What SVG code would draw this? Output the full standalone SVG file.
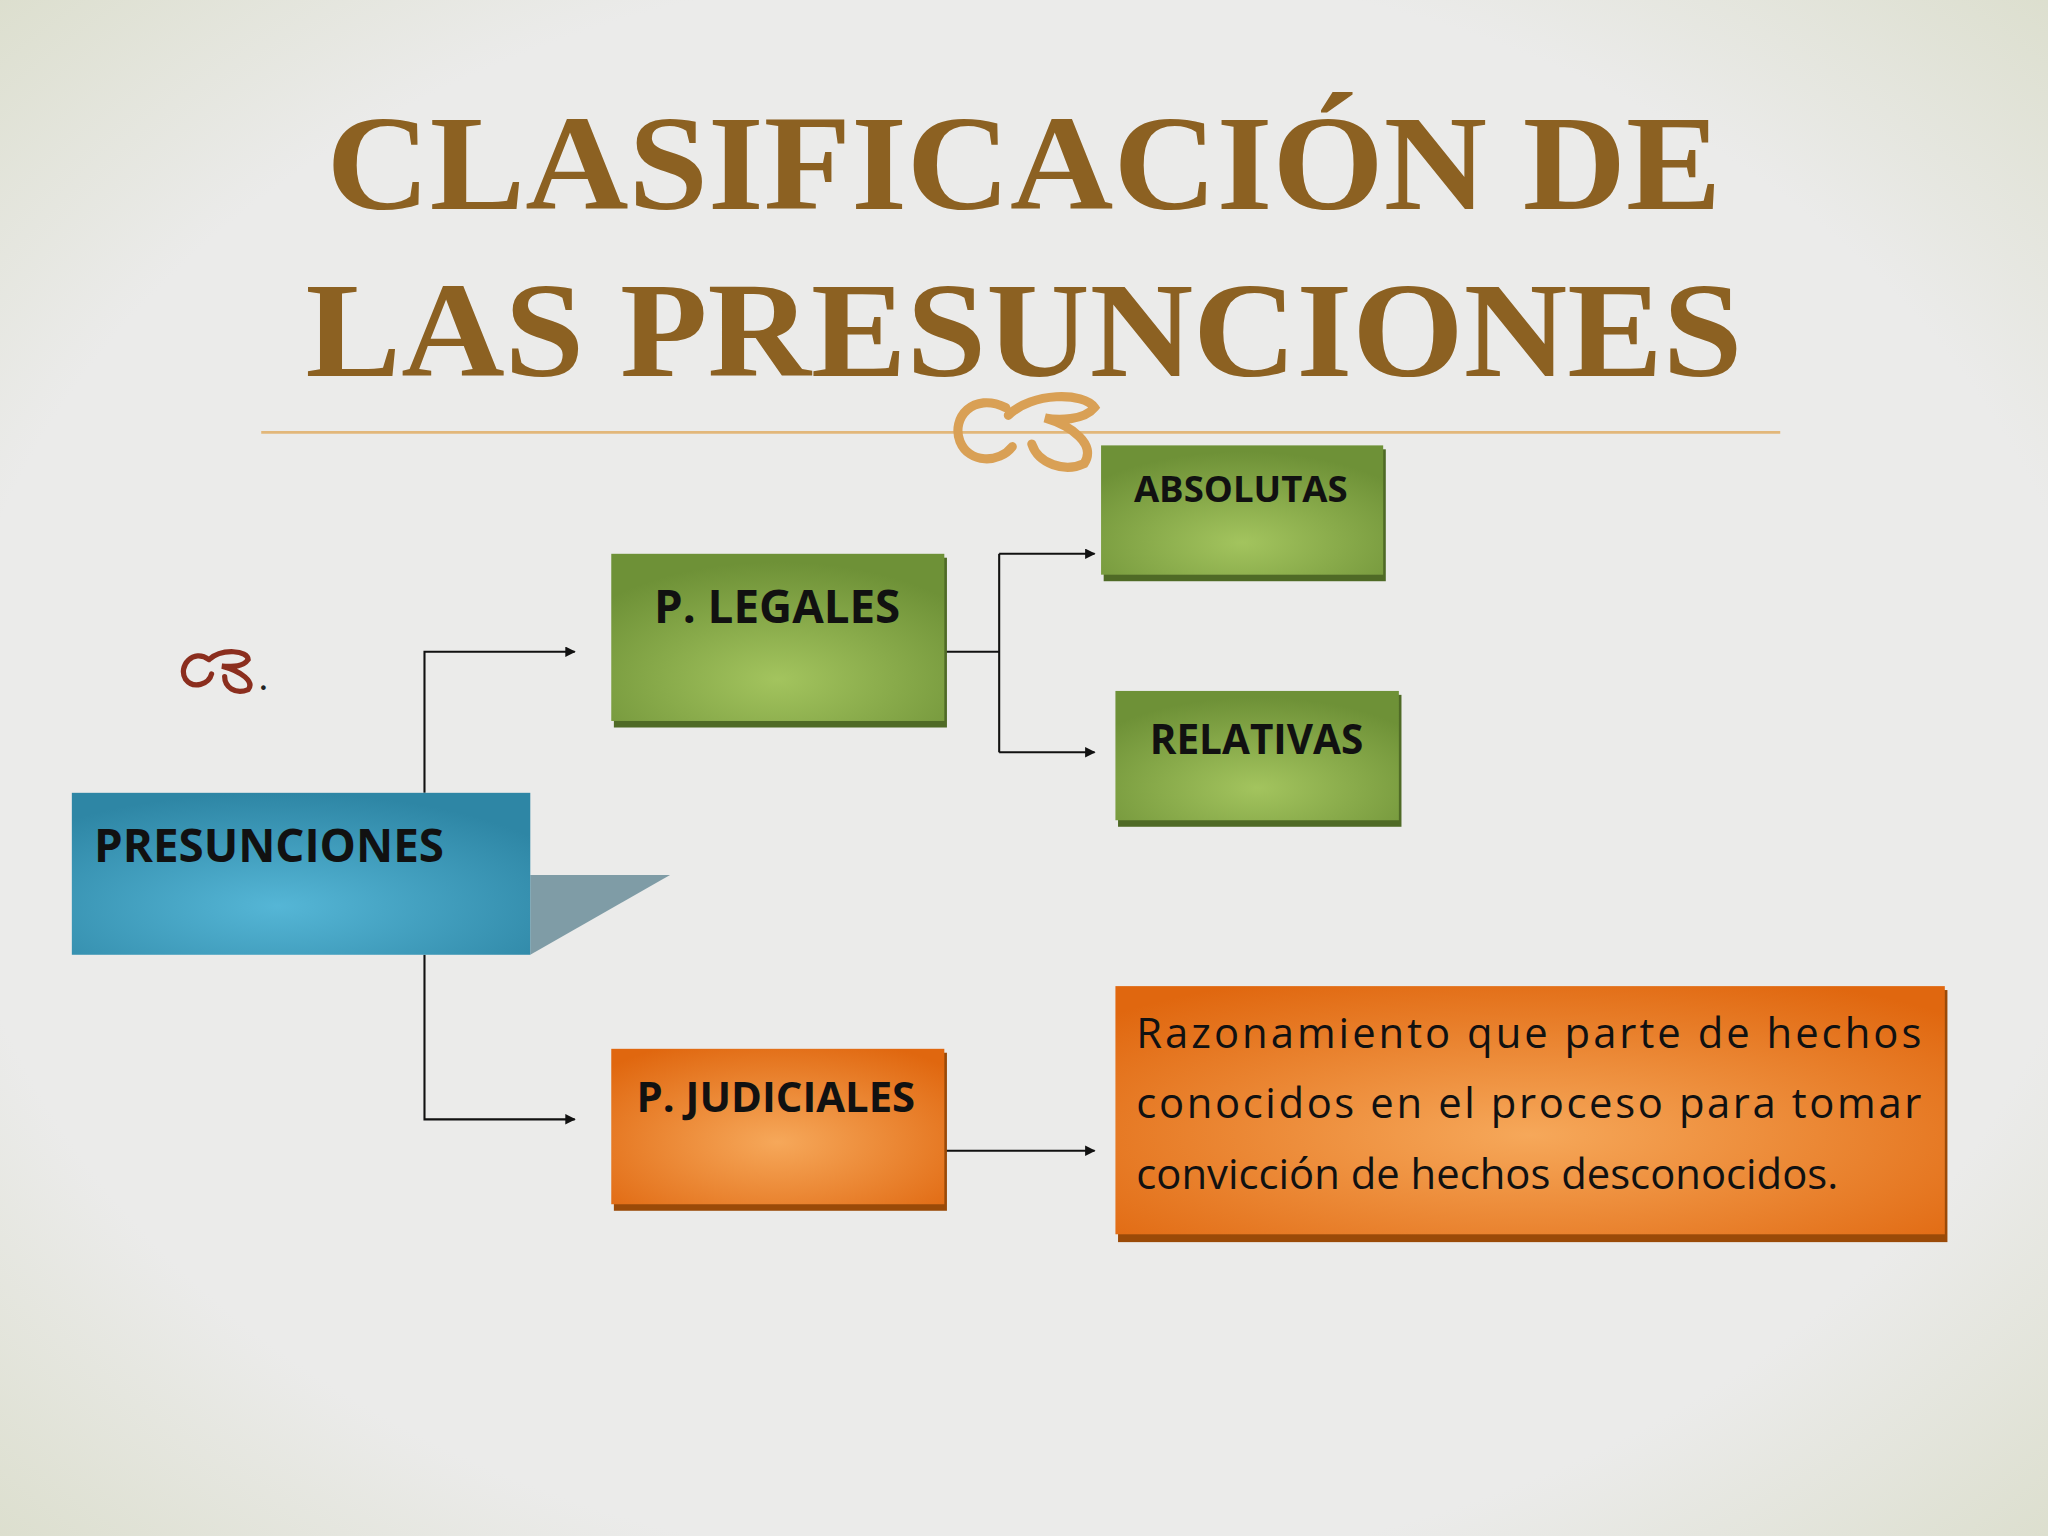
<svg xmlns="http://www.w3.org/2000/svg" width="2048" height="1536" viewBox="0 0 2048 1536">
<defs>
<radialGradient id="bg" cx="50%" cy="50%" r="75%"><stop offset="0.7" stop-color="#ebebea"/><stop offset="1" stop-color="#d9dcc8"/></radialGradient>
<radialGradient id="gr" cx="50%" cy="75%" r="70%"><stop offset="0" stop-color="#a3c45e"/><stop offset="1" stop-color="#6e9137"/></radialGradient>
<radialGradient id="or" cx="50%" cy="60%" r="70%"><stop offset="0" stop-color="#f6a85a"/><stop offset="1" stop-color="#e0670f"/></radialGradient>
<radialGradient id="bl" cx="45%" cy="70%" r="70%"><stop offset="0" stop-color="#55b6d6"/><stop offset="1" stop-color="#2e86a5"/></radialGradient>
<marker id="ar" viewBox="0 0 10 10" refX="9" refY="5" markerWidth="8" markerHeight="8" orient="auto" markerUnits="userSpaceOnUse"><path d="M0,0L10,5L0,10z" fill="#111"/></marker>
<style>
.lbl{font-family:"Open Sans","Liberation Sans",sans-serif;font-weight:bold;fill:#111}
.title{font-family:"Liberation Serif",serif;font-weight:bold;fill:#8c6122;text-anchor:middle}
.cn{fill:none;stroke:#111;stroke-width:1.6}
.txt{font-family:"Open Sans","Liberation Sans",sans-serif;fill:#111;font-size:32px}
</style>
</defs>
<rect width="2048" height="1536" fill="url(#bg)"/>
<g transform="scale(1.30612)">
<g id="title">
<text class="title" x="784" y="160" font-size="104" textLength="1068" lengthAdjust="spacingAndGlyphs">CLASIFICACIÓN DE</text>
<text class="title" x="784" y="288" font-size="104" textLength="1100" lengthAdjust="spacingAndGlyphs">LAS PRESUNCIONES</text>
<line x1="200" y1="331" x2="1363" y2="331" stroke="#e2b77a" stroke-width="2"/>
<path d="M770,312 C745,300 728,320 735,338 C742,355 765,355 775,342 M772,318 C790,300 830,300 838,312 C830,322 810,322 800,320 C820,326 840,340 830,355 C815,362 795,355 790,340" fill="none" stroke="#d9a055" stroke-width="7" stroke-linecap="round"/>
<path d="M160,505 C148,496 136,510 142,520 C148,528 160,524 162,516 M160,505 C170,496 190,498 190,505 C185,512 175,510 170,510 C185,514 195,522 190,528 C180,532 172,526 172,518" fill="none" stroke="#8b2e1e" stroke-width="4" stroke-linecap="round"/>
<text x="198" y="528" font-family="Liberation Serif,serif" font-size="30" fill="#222">.</text>
</g>
<g id="connectors">
<path class="cn" d="M325,607V499H440" marker-end="url(#ar)"/>
<path class="cn" d="M325,731V857H440" marker-end="url(#ar)"/>
<path class="cn" d="M723,499H765"/>
<path class="cn" d="M765,424V576"/>
<path class="cn" d="M765,424H838" marker-end="url(#ar)"/>
<path class="cn" d="M765,576H838" marker-end="url(#ar)"/>
<path class="cn" d="M723,881H838" marker-end="url(#ar)"/>
</g>
<g id="presunciones">
<polygon points="406,670 513,670 406,731" fill="#7f9ca6"/>
<rect x="55" y="607" width="351" height="124" fill="url(#bl)"/>
<text class="lbl" x="72" y="660" font-size="35">PRESUNCIONES</text>
</g>
<g id="legales">
<rect x="470" y="427" width="255" height="130" fill="#4f6a26"/>
<rect x="468" y="424" width="255" height="128" fill="url(#gr)"/>
<text class="lbl" x="595" y="477" font-size="35" text-anchor="middle">P. LEGALES</text>
</g>
<g id="absolutas">
<rect x="845" y="344" width="216" height="101" fill="#4f6a26"/>
<rect x="843" y="341" width="216" height="99" fill="url(#gr)"/>
<text class="lbl" x="950" y="384" font-size="28" text-anchor="middle">ABSOLUTAS</text>
</g>
<g id="relativas">
<rect x="856" y="532" width="217" height="101" fill="#4f6a26"/>
<rect x="854" y="529" width="217" height="99" fill="url(#gr)"/>
<text class="lbl" x="962" y="577" font-size="31" text-anchor="middle">RELATIVAS</text>
</g>
<g id="judiciales">
<rect x="470" y="806" width="255" height="121" fill="#9a4a08"/>
<rect x="468" y="803" width="255" height="119" fill="url(#or)"/>
<text class="lbl" x="594" y="851" font-size="32" text-anchor="middle">P. JUDICIALES</text>
</g>
<g id="descripcion">
<rect x="856" y="758" width="635" height="193" fill="#9a4a08"/>
<rect x="854" y="755" width="635" height="190" fill="url(#or)"/>
<text class="txt" x="870" y="802" textLength="601" lengthAdjust="spacing">Razonamiento que parte de hechos</text>
<text class="txt" x="870" y="856" textLength="601" lengthAdjust="spacing">conocidos en el proceso para tomar</text>
<text class="txt" x="870" y="910">convicción de hechos desconocidos.</text>
</g>
</g>
</svg>
